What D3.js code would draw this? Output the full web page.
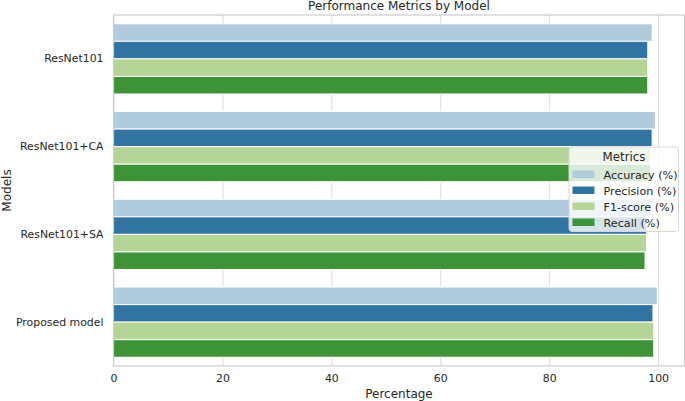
<!DOCTYPE html>
<html>
<head>
<meta charset="utf-8">
<script src="https://cdn.jsdelivr.net/npm/d3@7"></script>
<style>
  body { margin: 0; background: #fff; }
  text { font-family: "DejaVu Sans", sans-serif; fill: #262626; }
  .axis path { display: none; }
  .grid line { stroke: #dcdcdc; stroke-width: 1; }
  .grid path { display: none; }
</style>
</head>
<body>
<div class="chart"></div>
<script>
/* data */
const models = ["ResNet101", "ResNet101+CA", "ResNet101+SA", "Proposed model"];
const metrics = ["Accuracy (%)", "Precision (%)", "F1-score (%)", "Recall (%)"];
const accuracy = [98.9, 99.5, 99.2, 99.85];
const precision = [98.1, 98.9, 97.9, 99.05];
const f1score = [98.1, 98.6, 97.9, 99.2];
const recall = [98.1, 98.6, 97.6, 99.2];
const xTicks = [0, 20, 40, 60, 80, 100];
const colors = ["#afcbdd", "#3274a1", "#b4d596", "#3f9337"];

/* build long table */
const series = [accuracy, precision, f1score, recall];
const rows = [];
models.forEach((m, i) => {
  metrics.forEach((k, j) => rows.push({model: m, metric: k, value: series[j][i]}));
});

/* dimensions */
const W = 685, H = 401;
const margin = {top: 15, right: 0.5, bottom: 35, left: 113.5};
const width = W - margin.left - margin.right;
const height = H - margin.top - margin.bottom;

const svg = d3.select(".chart").append("svg")
  .attr("width", W)
  .attr("height", H);

const g = svg.append("g")
  .attr("transform", `translate(${margin.left},${margin.top})`);

/* scales */
const maxVal = d3.max(rows, d => d.value);
const xScale = d3.scaleLinear()
  .domain([0, maxVal * 1.05])
  .range([0, width]);

const yScale = d3.scaleBand()
  .domain(models)
  .range([0, height]);

const inner = d3.scaleBand()
  .domain(metrics)
  .range([yScale.bandwidth() * 0.1, yScale.bandwidth() * 0.9]);

const color = d3.scaleOrdinal().domain(metrics).range(colors);

/* vertical grid lines */
g.append("g")
  .attr("class", "grid")
  .attr("transform", `translate(0, ${height})`)
  .call(d3.axisBottom(xScale).tickValues(xTicks).tickSize(-height).tickFormat(""));

/* bars */
g.append("g")
  .selectAll("rect")
  .data(rows)
  .enter()
  .append("rect")
  .attr("x", xScale(0))
  .attr("y", d => yScale(d.model) + inner(d.metric))
  .attr("width", d => xScale(d.value) - xScale(0))
  .attr("height", inner.bandwidth())
  .style("fill", d => color(d.metric))
  .style("stroke", "#fff")
  .style("stroke-width", 1);

/* frame */
g.append("rect")
  .attr("x", 0)
  .attr("y", 0)
  .attr("width", width)
  .attr("height", height)
  .style("fill", "none")
  .style("stroke", "#cccccc")
  .style("stroke-width", 1.2);

/* x axis */
g.append("g")
  .attr("class", "axis x-axis")
  .attr("transform", `translate(0, ${height})`)
  .call(d3.axisBottom(xScale).tickValues(xTicks).tickSize(0).tickPadding(8))
  .selectAll("text")
  .style("font-size", "10.9px")
  .style("font-family", "DejaVu Sans");

/* y axis */
g.append("g")
  .attr("class", "axis y-axis")
  .call(d3.axisLeft(yScale).tickSize(0).tickPadding(10))
  .selectAll("text")
  .style("font-size", "10.9px")
  .style("font-family", "DejaVu Sans");

/* axis labels and title */
svg.append("text")
  .attr("x", margin.left + width / 2)
  .attr("y", 398)
  .attr("text-anchor", "middle")
  .style("font-size", "12px")
  .text("Percentage");

svg.append("text")
  .attr("transform", `translate(11, ${margin.top + height / 2}) rotate(-90)`)
  .attr("text-anchor", "middle")
  .style("font-size", "12px")
  .text("Models");

svg.append("text")
  .attr("x", margin.left + width / 2)
  .attr("y", 10)
  .attr("text-anchor", "middle")
  .style("font-size", "12px")
  .text("Performance Metrics by Model");

/* legend */
const legend = svg.append("g")
  .attr("class", "legend")
  .attr("transform", "translate(569, 147)");

legend.append("rect")
  .attr("width", 109.5)
  .attr("height", 84.5)
  .attr("rx", 3)
  .style("fill", "#fff")
  .style("fill-opacity", 0.8)
  .style("stroke", "#d6d6d6")
  .style("stroke-width", 1);

legend.append("text")
  .attr("x", 55)
  .attr("y", 14)
  .attr("text-anchor", "middle")
  .style("font-size", "11.8px")
  .text("Metrics");

legend.selectAll("rect.key")
  .data(metrics)
  .enter()
  .append("rect")
  .attr("class", "key")
  .attr("x", 3.5)
  .attr("y", (_, i) => 23.5 + 16 * i)
  .attr("width", 22)
  .attr("height", 7.5)
  .style("fill", d => color(d));

legend.selectAll("text.lab")
  .data(metrics)
  .enter()
  .append("text")
  .attr("class", "lab")
  .attr("x", 34.5)
  .attr("y", (_, i) => 31.5 + 16 * i)
  .style("font-size", "11.2px")
  .text(d => d);
</script>
</body>
</html>
